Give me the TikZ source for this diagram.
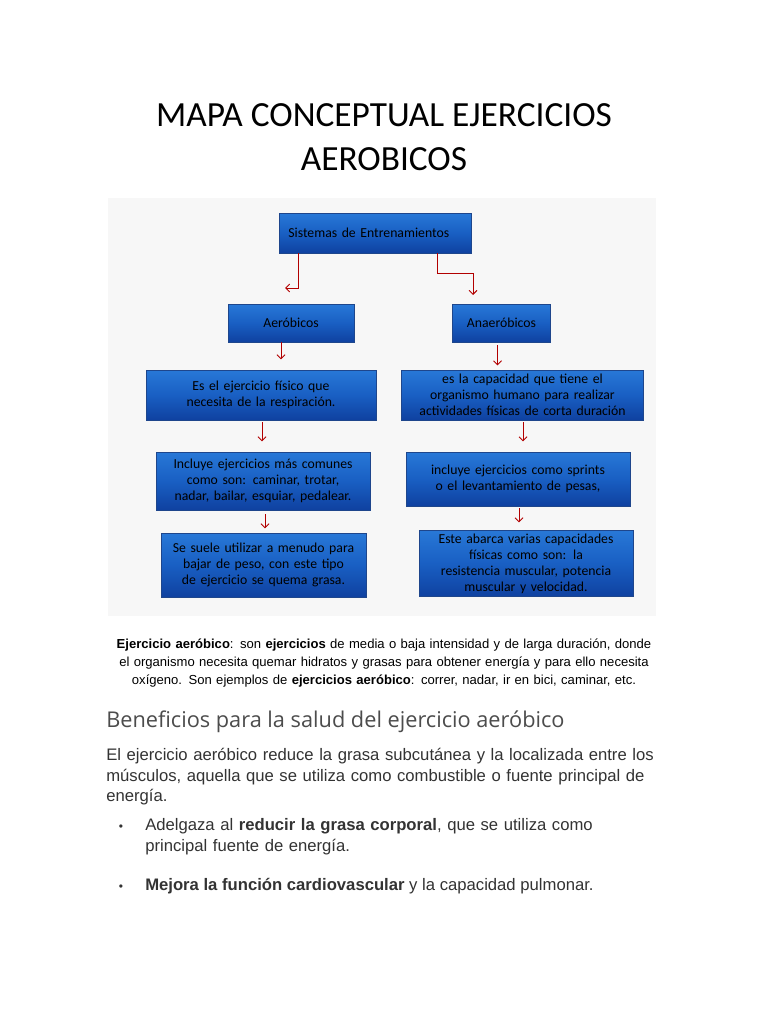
\documentclass[tikz,border=0pt]{standalone}
\usepackage{fontspec}
\usetikzlibrary{arrows.meta}
\setmainfont{Liberation Sans}
\newfontfamily\calfont{Carlito}
\newfontfamily\osans{Open Sans}
\definecolor{btop}{RGB}{40,120,215}
\definecolor{bmid}{RGB}{25,95,195}
\definecolor{bbot}{RGB}{15,65,160}
\definecolor{bline}{RGB}{30,70,140}
\hyphenpenalty=10000
\begin{document}
\begin{tikzpicture}[x=0.75pt,y=-0.75pt,
 bx/.style={draw=bline,line width=0.6pt,top color=btop,bottom color=bbot,middle color=bmid,inner sep=0pt,font=\calfont\fontsize{10.3pt}{12pt}\selectfont,align=center,text=black},
 ar/.style={draw=red!70!black,line width=0.7pt,-{Straight Barb[length=3pt]}}]
\useasboundingbox (0,0) rectangle (768,1024);
\fill[white] (0,0) rectangle (768,1024);
\fill[gray!6] (108,198) rectangle (656,616);
\node[font=\calfont\fontsize{26.5pt}{33pt}\selectfont,align=center] (title) at (384,137) {MAPA CONCEPTUAL EJERCICIOS\\AEROBICOS};
\node[bx,minimum width=144pt,minimum height=30pt,text width=130pt,align=left] (s) at (375,233) {Sistemas de Entrenamientos};
\node[bx,minimum width=94.5pt,minimum height=28.5pt] (a) at (291,323) {Aeróbicos};
\node[bx,minimum width=73pt,minimum height=28.5pt] (b) at (501.5,323) {Anaeróbicos};
\node[bx,minimum width=172.5pt,minimum height=37.5pt,text width=170pt] (l1) at (261,395) {Es el ejercicio físico que necesita de la respiración.};
\node[bx,minimum width=181pt,minimum height=37.5pt,text width=178pt] (r1) at (522.5,395) {es la capacidad que tiene el organismo humano para realizar actividades físicas de corta duración};
\node[bx,minimum width=160.5pt,minimum height=43.5pt,text width=150pt] (l2) at (263,481) {Incluye ejercicios más comunes como son: caminar, trotar, nadar, bailar, esquiar, pedalear.};
\node[bx,minimum width=168pt,minimum height=40.5pt,text width=160pt] (r2) at (518,479) {incluye ejercicios como sprints o el levantamiento de pesas,};
\node[bx,minimum width=153.75pt,minimum height=48pt,text width=145pt] (l3) at (263.5,565) {Se suele utilizar a menudo para bajar de peso, con este tipo de ejercicio se quema grasa.};
\node[bx,minimum width=160.5pt,minimum height=50pt,text width=140pt] (r3) at (526,563.5) {Este abarca varias capacidades físicas como son: la resistencia muscular, potencia muscular y velocidad.};
\coordinate (c1) at (298,288); \coordinate (c2) at (285,288);
\draw[ar] (s.south -| c1) |- (c2);
\coordinate (c3) at (437,273); \coordinate (c4) at (473,295);
\draw[ar] (s.south -| c3) |- (c4 |- c3) -- (c4);
\draw[ar] ([xshift=-7.5pt]a.south) -- ++(0,17);
\draw[ar] ([xshift=-3pt]b.south) ++(0,3) -- ++(0,20);
\draw[ar] ([xshift=0.75pt]l1.south) ++(0,2) -- ++(0,19);
\draw[ar] ([xshift=0.4pt]r1.south) ++(0,2) -- ++(0,19);
\draw[ar] ([xshift=1.5pt]l2.south) ++(0,4) -- ++(0,14);
\draw[ar] ([xshift=0.75pt]r2.south) ++(0,2) -- ++(0,14);
\node[font=\fontsize{9.8pt}{13.2pt}\selectfont,align=center,text width=420pt] (p1) at (384,663) {\textbf{Ejercicio aeróbico}: son \textbf{ejercicios} de media o baja intensidad y de larga duración, donde el organismo necesita quemar hidratos y grasas para obtener energía y para ello necesita oxígeno. Son ejemplos de \textbf{ejercicios aeróbico}: correr, nadar, ir en bici, caminar, etc.};
\node[font=\osans\fontsize{16.3pt}{18pt}\selectfont,text=black!70,anchor=west,inner sep=0pt] (h) at (106,722) {Beneficios para la salud del ejercicio aeróbico};
\node[font=\fontsize{12.5pt}{15.5pt}\selectfont,text=black!80,anchor=north west,align=left,text width=420pt,inner sep=0pt] (p2) at (106,748) {El ejercicio aeróbico reduce la grasa subcutánea y la localizada entre los músculos, aquella que se utiliza como combustible o fuente principal de energía.};
\node[font=\fontsize{12.5pt}{15.5pt}\selectfont,text=black!80,anchor=north west,align=left,text width=370pt,inner sep=0pt] (p3) at (145,818) {Adelgaza al \textbf{reducir la grasa corporal}, que se utiliza como principal fuente de energía.};
\node[font=\fontsize{12.5pt}{15.5pt}\selectfont,text=black!80,anchor=north west,inner sep=0pt] (p4) at (145,878) {\textbf{Mejora la función cardiovascular} y la capacidad pulmonar.};
\node[text=black!80,font=\small] (d1) at (121,828) {•};
\node[text=black!80,font=\small] (d2) at (121,888) {•};
\end{tikzpicture}
\end{document}
